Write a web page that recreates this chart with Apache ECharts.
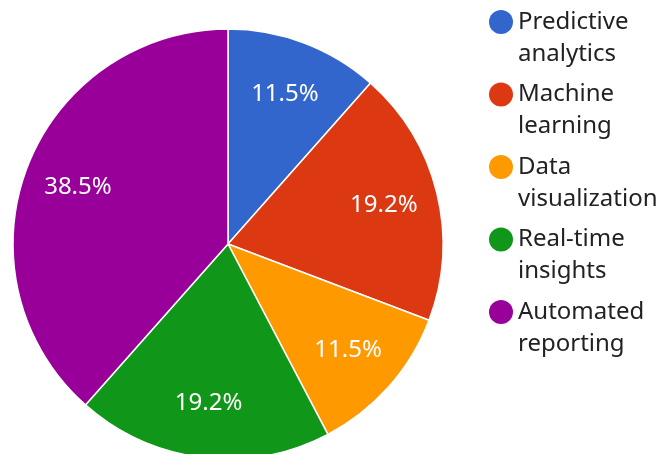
<!DOCTYPE html>
<html><head><meta charset="utf-8">
<script src="https://cdn.jsdelivr.net/npm/echarts@6/dist/echarts.min.js"></script>
<style>html,body{margin:0;padding:0;background:#fff}#c{width:661px;height:454px}</style>
</head><body><div id="c"></div>
<script>
const categories = ['Predictive analytics', 'Machine learning', 'Data visualization', 'Real-time insights', 'Automated reporting'];
const values = [3, 5, 3, 5, 10];
const colors = ['#3366cc', '#dc3912', '#ff9900', '#109618', '#990099'];
const legendLines = {
  'Predictive analytics': 'Predictive\nanalytics',
  'Machine learning': 'Machine\nlearning',
  'Data visualization': 'Data\nvisualization',
  'Real-time insights': 'Real-time\ninsights',
  'Automated reporting': 'Automated\nreporting'
};
const data = categories.map((n, i) => ({ name: n, value: values[i] }));
const total = values.reduce((a, b) => a + b, 0);
const chart = echarts.init(document.getElementById('c'));
chart.setOption({
  color: colors,
  animation: false,
  legend: {
    orient: 'vertical',
    left: 484,
    top: 1,
    icon: 'path://M12,4 A12,12 0 1 1 12,28 A12,12 0 1 1 12,4 Z M0,0 L0,0 M24,64 L24,64',
    itemWidth: 24,
    itemHeight: 64,
    itemGap: 8.5,
    itemStyle: { borderWidth: 0 },
    formatter: n => legendLines[n],
    textStyle: { fontFamily: 'Noto Sans', fontSize: 24, color: '#222', lineHeight: 32 }
  },
  series: [{
    type: 'pie',
    center: [228, 244],
    radius: 215,
    startAngle: 90,
    clockwise: true,
    data: data,
    label: { show: false },
    labelLine: { show: false },
    itemStyle: { borderColor: '#fff', borderWidth: 1.5 },
    emphasis: { disabled: true }
  }, {
    type: 'pie',
    center: [228, 244],
    radius: [100, 215],
    startAngle: 90,
    clockwise: true,
    silent: true,
    data: data,
    itemStyle: { color: 'rgba(0,0,0,0)' },
    label: {
      show: true, position: 'inside', color: '#fff', fontFamily: 'Noto Sans', fontSize: 24,
      formatter: p => (p.value / total * 100).toFixed(1) + '%'
    },
    labelLine: { show: false },
    emphasis: { disabled: true }
  }]
});
</script></body></html>
